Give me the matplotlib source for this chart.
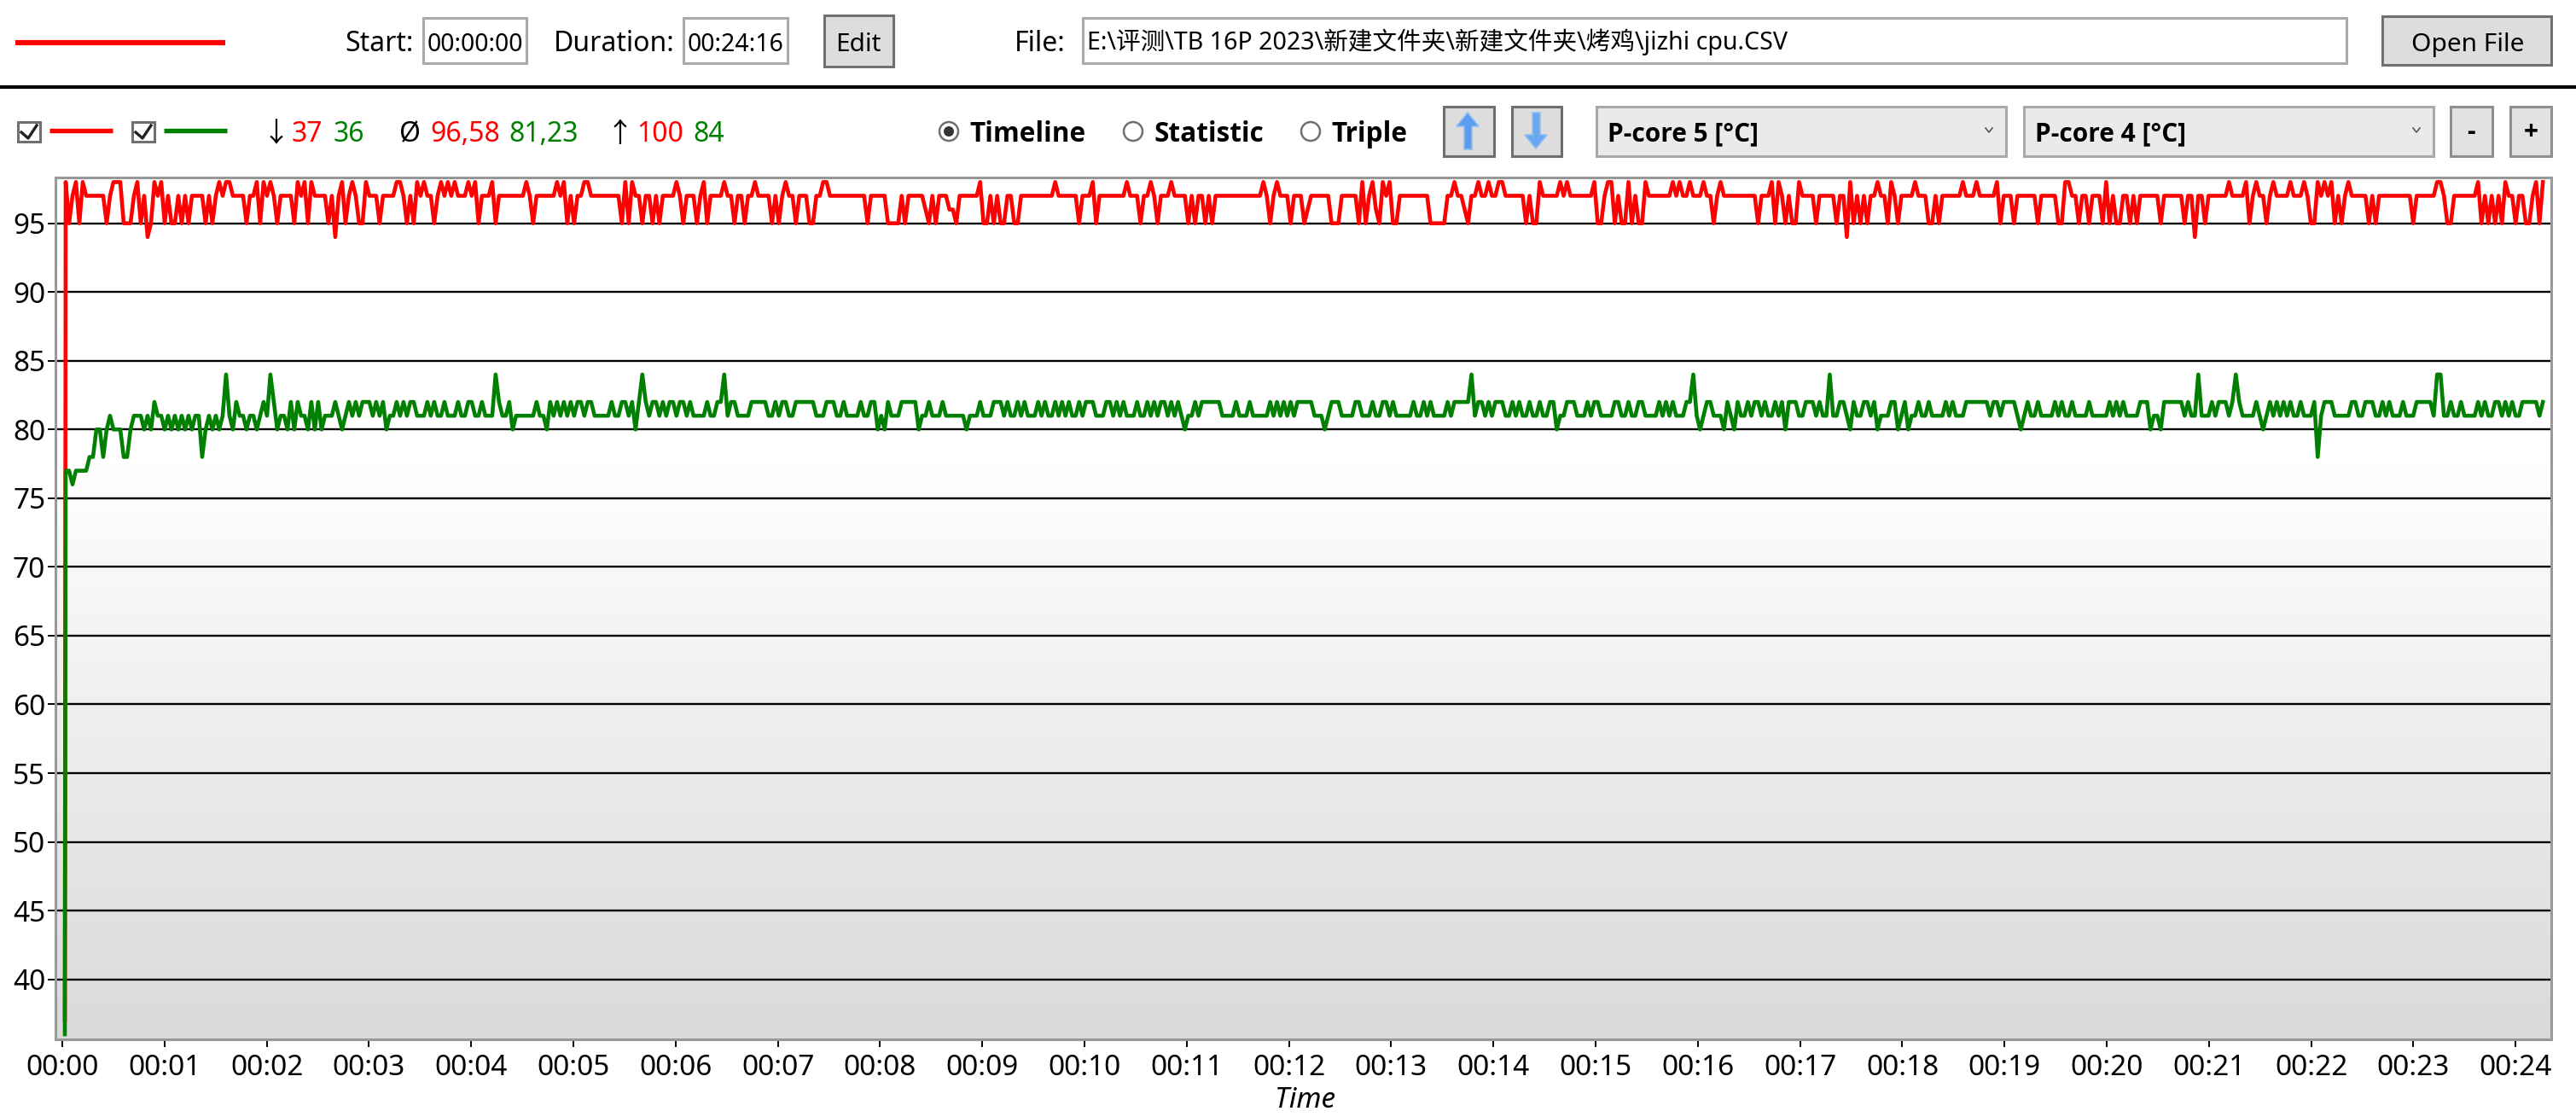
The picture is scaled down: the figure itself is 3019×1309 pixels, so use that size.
# Timeline view of two CPU core temperatures with the viewer window around it

import numpy as np
import matplotlib
matplotlib.use("Agg")
import matplotlib.pyplot as plt
from matplotlib.patches import Rectangle, Circle, Polygon

plt.rcParams['font.family'] = ['Noto Sans', 'Noto Sans CJK SC', 'DejaVu Sans']

# Log length and samples
duration_sec = 1456
n_samples = 728
tick_labels = [f"00:{m:02d}" for m in range(25)]
y_ticks = list(range(40, 100, 5))

# Red series (P-core 5): sits on 97, these sample numbers leave that level
red_start = [37]
red_94 = [25, 80, 523, 625]
red_96 = [253, 260, 261, 365, 385, 411]
red_95 = [2, 5, 13, 18, 19, 20, 23, 26, 30, 32, 33, 35, 37, 42, 44, 54, 58, 63, 68, 72, 78,
          83, 87, 88, 93, 101, 103, 109, 122, 127, 138, 148, 150, 164, 166, 170, 173, 175, 182,
          186, 189, 197, 200, 208, 210, 215, 219, 220, 236, 242, 243, 244, 245, 247, 254, 256, 262,
          270, 271, 273, 275, 276, 279, 280, 298, 303, 316, 321, 330, 332, 335, 337, 354, 360, 364,
          372, 373, 374, 380,
          382, 386, 390, 391, 401, 402, 403, 404, 405, 412, 429, 431, 432, 450, 451, 455, 457, 458,
          460, 462, 463, 484, 497, 502, 505, 507, 508, 514, 520, 525, 527, 529, 535, 538, 547, 548,
          550, 568, 572, 579,
          585, 586, 591, 594, 598, 600, 602, 603, 606, 608, 615, 622, 628, 641, 646, 659, 660, 666,
          668, 676, 678, 689, 699, 700, 709, 711, 713, 715, 719, 722, 723, 726]
red_98 = [1, 4, 6, 15, 16, 17, 22, 27, 29, 46, 48, 49, 57, 59, 61, 69, 71, 73, 82, 85, 89, 98, 99,
          104, 106, 111, 113, 115, 119, 121, 126, 136, 145, 147, 153, 154, 165, 167, 180,
          188, 194, 203, 212, 223, 224, 269, 291, 302, 312, 319, 325, 352, 356, 381,
          384, 387, 389, 408, 415, 418, 421, 422, 433, 439, 441, 449, 453, 454, 459, 464, 472, 474,
          477, 481, 486, 501, 503, 509, 524, 532, 536, 543, 557, 561, 567,
          587, 588, 599, 635, 640, 643, 648, 653, 657, 661, 663, 665, 670, 696, 697, 708, 716, 725, 727]

# Green series (P-core 4): first minutes by sample, later on 81 with departures
green_start = [36, 77, 77, 76, 77, 77, 77, 77, 78, 78, 80, 80, 78, 80, 81, 80, 80, 80, 78, 78, 80,
               81, 81, 81, 80, 81, 80, 82, 81, 81, 80, 81, 80, 81, 80, 81, 80, 81, 80, 81, 81, 78,
               80, 81, 80, 81, 80, 81, 84, 81, 80, 82, 81, 81, 80, 81, 81, 80, 81, 82, 81, 84, 82]
green_78 = [661]
green_80 = [63, 66, 68, 72, 74, 76, 82, 95, 132, 142, 168,
            239, 241, 251, 265, 329, 370,
            438, 480, 487, 490, 505, 524, 532, 538, 541, 574,
            612, 615, 645]
green_82 = [67, 69, 73, 75, 80, 84, 86, 88, 89, 90, 92, 94, 98, 100, 102, 103, 107, 109, 112, 116,
            119, 120, 123, 128, 131, 139, 143, 145, 147, 149, 151, 152, 154, 155, 161, 164, 165, 167,
            169, 171, 173, 174, 176, 178, 179, 181,
            182, 184, 189, 192, 193, 196, 197, 202, 203, 204, 205, 206, 209, 211, 212, 215, 216, 217,
            218, 219, 220, 224, 225, 226, 229, 234, 237, 238, 242, 246, 247, 248, 249, 250, 254, 258,
            269, 273, 274, 275, 277, 280, 282, 286, 288, 291, 293, 295, 298, 300, 301, 302, 306, 307,
            309, 311, 315, 318, 320, 322, 323, 325, 327, 332, 334, 335, 336, 337, 338, 339, 344, 348,
            354, 356, 358, 360, 362, 363, 364, 365, 366, 372, 373, 374, 379, 380,
            384, 387, 388, 390, 396, 399, 401, 406, 408, 409, 410, 411, 412, 415, 416, 418, 420, 421,
            422, 425, 427, 430, 433, 436, 437, 441, 442, 443, 447, 449, 450, 455, 456, 459, 462, 463,
            468, 470, 472, 476, 477, 482, 483, 488, 491, 494, 496, 497, 499, 502, 504, 506, 507, 508,
            511, 512, 513, 515, 521, 522, 525, 528, 529, 531, 536, 537, 540, 544, 547, 552, 554,
            558, 559, 560, 561, 562, 563, 564, 566, 567, 569, 570, 571, 572, 576, 579,
            584, 586, 589, 594, 600, 602, 604, 609, 610, 611, 616, 617, 618, 619, 620, 621, 623, 630,
            632, 633, 634, 636, 638, 643, 647, 649, 651, 653, 656, 660, 663, 664, 665, 671, 672, 675,
            676, 677, 680, 682, 686, 690, 691, 692, 693, 694, 700, 703, 708, 710, 713, 714, 716, 718,
            721, 722, 723, 724, 725, 727]
green_84 = [127, 170, 194, 413, 478, 518, 626, 637, 696, 697]

# Text of the window
file_path = "E:\\评测\\TB 16P 2023\\新建文件夹\\新建文件夹\\烤鸡\\jizhi cpu.CSV"
combo_labels = ["P-core 5 [°C]", "P-core 4 [°C]"]
mode_labels = ["Timeline", "Statistic", "Triple"]

RED = "#ff0000"
GREEN = "#008000"
FS_AXIS = 24
FS_LABEL = 23
FS_BOX = 20.5
FS_BUTTON = 21.5
BOLD_FONT = ['Open Sans', 'DejaVu Sans']


def build_series():
    red = np.full(n_samples, 97)
    red[0] = red_start[0]
    red[red_96] = 96
    red[red_95] = 95
    red[red_98] = 98
    red[red_94] = 94

    green = np.full(n_samples, 81)
    green[green_82] = 82
    green[green_80] = 80
    green[green_84] = 84
    green[green_78] = 78
    green[:len(green_start)] = green_start
    return red, green


def box(ax, x0, y0, x1, y1, face="white", edge="#a9a9a9", lw=2.2):
    ax.add_patch(Rectangle((x0, y0), x1 - x0, y1 - y0, facecolor=face, edgecolor=edge, linewidth=lw))


def label(ax, x, y, s, color="black", ha="left", size=FS_LABEL, **kw):
    ax.text(x, y, s, color=color, ha=ha, va="baseline", fontsize=size, **kw)


fig = plt.figure(figsize=(30.19, 13.09), dpi=100)

# Window parts drawn in pixel coordinates
ui = fig.add_axes([0, 0, 1, 1])
ui.set_xlim(0, 3019)
ui.set_ylim(1309, 0)
ui.axis("off")

# top row
ui.plot([18, 264], [50, 50], color=RED, lw=4.4, solid_capstyle="butt")
label(ui, 404, 60, "Start:")
box(ui, 496, 21, 617, 74)
label(ui, 557, 60, "00:00:00", ha="center", size=FS_BOX)
label(ui, 649, 60, "Duration:")
box(ui, 801, 21, 923, 74)
label(ui, 862, 60, "00:24:16", ha="center", size=FS_BOX)
box(ui, 966, 18, 1047, 78, face="#dddddd", edge="#707070")
label(ui, 1006, 60, "Edit", ha="center", size=FS_BUTTON)
label(ui, 1189, 60, "File:")
box(ui, 1269, 21, 2750, 74)
label(ui, 1274, 58, file_path, size=20.6)
box(ui, 2792, 19, 2990, 76, face="#dddddd", edge="#707070")
label(ui, 2892, 60, "Open File", ha="center", size=FS_BUTTON)
ui.plot([0, 3019], [102, 102], color="black", lw=3, solid_capstyle="butt")

# second row: check boxes and statistics
for cx0, lx0, lx1, col in [(21, 58, 132, RED), (155, 192, 266, GREEN)]:
    box(ui, cx0, 143, cx0 + 26, 166, edge="#707070")
    ui.plot([cx0 + 4, cx0 + 12, cx0 + 22], [155, 162, 147], color="#222222", lw=2.4)
    ui.plot([lx0, lx1], [153, 153], color=col, lw=3.9, solid_capstyle="butt")

label(ui, 323, 166, "↓", ha="center")
label(ui, 342, 166, "37", color=RED)
label(ui, 391, 166, "36", color=GREEN)
label(ui, 480, 166, "Ø", ha="center")
label(ui, 504, 166, "96,58", color=RED)
label(ui, 596, 166, "81,23", color=GREEN)
label(ui, 726, 166, "↑", ha="center")
label(ui, 746, 166, "100", color=RED)
label(ui, 812, 166, "84", color=GREEN)

# radio buttons
for cx, tx, s, on in zip([1112, 1328, 1536], [1136, 1353, 1560], mode_labels, [True, False, False]):
    ui.add_patch(Circle((cx, 154), 11, facecolor="white", edgecolor="#707070", linewidth=1.8))
    if on:
        ui.add_patch(Circle((cx, 154), 6, facecolor="#333333", edgecolor="none"))
    label(ui, tx, 166, s, fontweight="bold", family=BOLD_FONT, size=22.7)

# up / down buttons
box(ui, 1692, 125, 1751, 183, face="#dddddd", edge="#6e6e6e")
box(ui, 1772, 125, 1830, 183, face="#dddddd", edge="#6e6e6e")
ui.add_patch(Polygon([(1720, 132), (1733, 148), (1725, 148), (1725, 175), (1716, 175), (1716, 148), (1707, 148)],
                     facecolor="#5c9cee", edgecolor="#8fbdf5", linewidth=1.2))
ui.add_patch(Polygon([(1800, 174), (1813, 158), (1805, 158), (1805, 132), (1796, 132), (1796, 158), (1787, 158)],
                     facecolor="#6ba6f0", edgecolor="#8fbdf5", linewidth=1.2))

# combo boxes and +/- buttons
for x0, x1, s in zip([1871, 2372], [2351, 2852], combo_labels):
    box(ui, x0, 125, x1, 183, face="#eaeaea")
    label(ui, x0 + 13, 165, s, fontweight="bold", family=BOLD_FONT, size=21.5)
    ui.plot([x1 - 24, x1 - 20, x1 - 16], [150, 155, 150], color="#555555", lw=1.2)
box(ui, 2872, 125, 2921, 183, face="#e2e2e2", edge="#8f8f8f")
box(ui, 2942, 125, 2990, 183, face="#e2e2e2", edge="#8f8f8f")
label(ui, 2896, 163, "-", ha="center", fontweight="bold", family=BOLD_FONT, size=FS_BUTTON)
label(ui, 2966, 163, "+", ha="center", fontweight="bold", family=BOLD_FONT, size=FS_BUTTON)

# Plot area
ax = fig.add_axes([65 / 3019, 1 - 1217.7 / 1309, (2989.6 - 65) / 3019, (1217.7 - 207.7) / 1309])

# background fades from white to grey in the lower part
shade = np.concatenate([np.full(31, 1.0), np.linspace(1.0, 0.85, 69)]).reshape(-1, 1)
ax.imshow(shade, cmap="gray", vmin=0, vmax=1, extent=[0, 1, 0, 1], transform=ax.transAxes,
          aspect="auto", zorder=0, interpolation="bilinear")
ax.set_xlim(-4, 1460.7)
ax.set_ylim(35.65, 98.35)

ax.set_yticks(y_ticks)
ax.set_xticks(np.arange(25) * 60)
ax.set_xticklabels(tick_labels)
ax.grid(axis="y", color="black", lw=1.7, zorder=1)
ax.set_axisbelow(True)
ax.tick_params(axis="both", labelsize=FS_AXIS, length=6.5, width=1.4, pad=2)
ax.tick_params(axis="x", pad=6)
for sp in ax.spines.values():
    sp.set_color("#999999")
    sp.set_linewidth(2.2)

red, green = build_series()
t = np.linspace(0, duration_sec, n_samples)
t[0] = 1.5  # log starts just after the first tick
ax.plot(t, red, color=RED, lw=3.3, solid_joinstyle="round", zorder=3)
ax.plot(t, green, color=GREEN, lw=3.3, solid_joinstyle="round", zorder=3)

ui.text(1530, 1298, "Time", ha="center", va="baseline", fontsize=FS_AXIS, style="italic")

fig.savefig("out.png", dpi=100)
